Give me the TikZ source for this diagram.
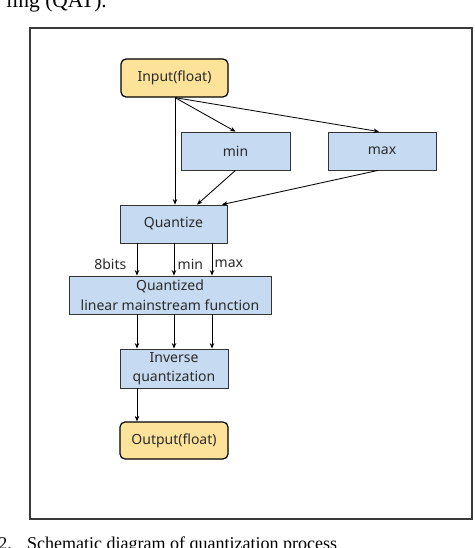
\documentclass[tikz,border=0pt]{standalone}
\usepackage{fontspec}
\setmainfont{Liberation Serif}
\newfontfamily\diagfont{Noto Sans}
\usetikzlibrary{arrows.meta}
\definecolor{bluefill}{HTML}{C6DBF1}
\definecolor{yellowfill}{HTML}{FDE29A}
\definecolor{txtgray}{HTML}{2A2A2A}
\definecolor{framegray}{HTML}{3A3A3A}
\begin{document}
\begin{tikzpicture}[x=1pt,y=-1pt,
  blk/.style={draw=black!80, fill=bluefill, line width=0.8pt, rectangle,
    inner sep=0pt, text=txtgray, align=center,
    font=\diagfont\fontsize{14}{19.5}\selectfont},
  term/.style={blk, fill=yellowfill, draw=black, line width=1.2pt, rounded corners=5pt},
  arr/.style={-{Stealth[length=5.5pt,width=4.5pt]}, line width=0.85pt, black},
  lbl/.style={inner sep=0pt, text=txtgray, font=\diagfont\fontsize{14}{16}\selectfont},
  captxt/.style={inner sep=0pt, font=\fontsize{18}{20}\selectfont}
]
\useasboundingbox (0,0) rectangle (474,548);
\clip (0,0) rectangle (474,548);
\fill[white] (0,0) rectangle (474,548);

% page text cut by the crop
\node[captxt, anchor=base east, font=\fontsize{21.5}{23}\selectfont] (toptext) at (107,7.5) {ling (QAT).};
\node[captxt, anchor=base east] (capnum) at (12,549) {2.};
\node[captxt, anchor=base west] (captext) at (27,549) {Schematic diagram of quantization process};

% frame
\node[draw=framegray, line width=1.2pt, minimum width=442pt, minimum height=491pt, inner sep=0pt] (frame) at (251,273.5) {};

% nodes
\node[term, minimum width=107pt, minimum height=38pt] (in) at (174.5,78) {Input(float)};
\node[blk, minimum width=109pt, minimum height=38pt] (mn) at (235.5,151) {min};
\node[blk, minimum width=108pt, minimum height=38pt] (mx) at (382,151) {max};
\node[blk, minimum width=107pt, minimum height=38pt] (qz) at (173.5,224) {Quantize};
\node[blk, minimum width=202pt, minimum height=38pt] (ql) at (170,295) {Quantized\\linear mainstream function};
\node[blk, minimum width=108pt, minimum height=39pt] (iq) at (174,368.5) {Inverse\\quantization};
\node[term, minimum width=108pt, minimum height=37pt] (out) at (174,440.5) {Output(float)};

% connectors from input
\coordinate (inb) at ([xshift=0.5pt]in.south);
\draw[arr] (inb) -- (inb |- qz.north);
\draw[arr] (inb) -- (mn.north);
\draw[arr] (inb) -- ([xshift=-3pt]mx.north);
\draw[arr] (mn.south) -- ([xshift=23.5pt]qz.north);
\draw[arr] ([xshift=-4pt]mx.south) -- ([xshift=48.5pt]qz.north);

% quantize -> quantized linear
\coordinate (c1) at ([xshift=-36.5pt]qz.south);
\coordinate (c2) at ([xshift=0.5pt]qz.south);
\coordinate (c3) at ([xshift=38.5pt]qz.south);
\draw[arr] (c1) -- (c1 |- ql.north);
\draw[arr] (c2) -- (c2 |- ql.north);
\draw[arr] (c3) -- (c3 |- ql.north);
\node[lbl, anchor=east] (l8) at (126.5,264) {8bits};
\node[lbl, anchor=west] (lmin) at (177.5,264) {min};
\node[lbl, anchor=west] (lmax) at (214.5,264) {max};

% quantized linear -> inverse
\coordinate (d1) at (c1 |- ql.south);
\coordinate (d2) at (c2 |- ql.south);
\coordinate (d3) at (c3 |- ql.south);
\draw[arr] (d1) -- (d1 |- iq.north);
\draw[arr] (d2) -- (d2 |- iq.north);
\draw[arr] (d3) -- (d3 |- iq.north);

% inverse -> output
\coordinate (e1) at (c1 |- iq.south);
\draw[arr] (e1) -- (e1 |- out.north);
\end{tikzpicture}
\end{document}
